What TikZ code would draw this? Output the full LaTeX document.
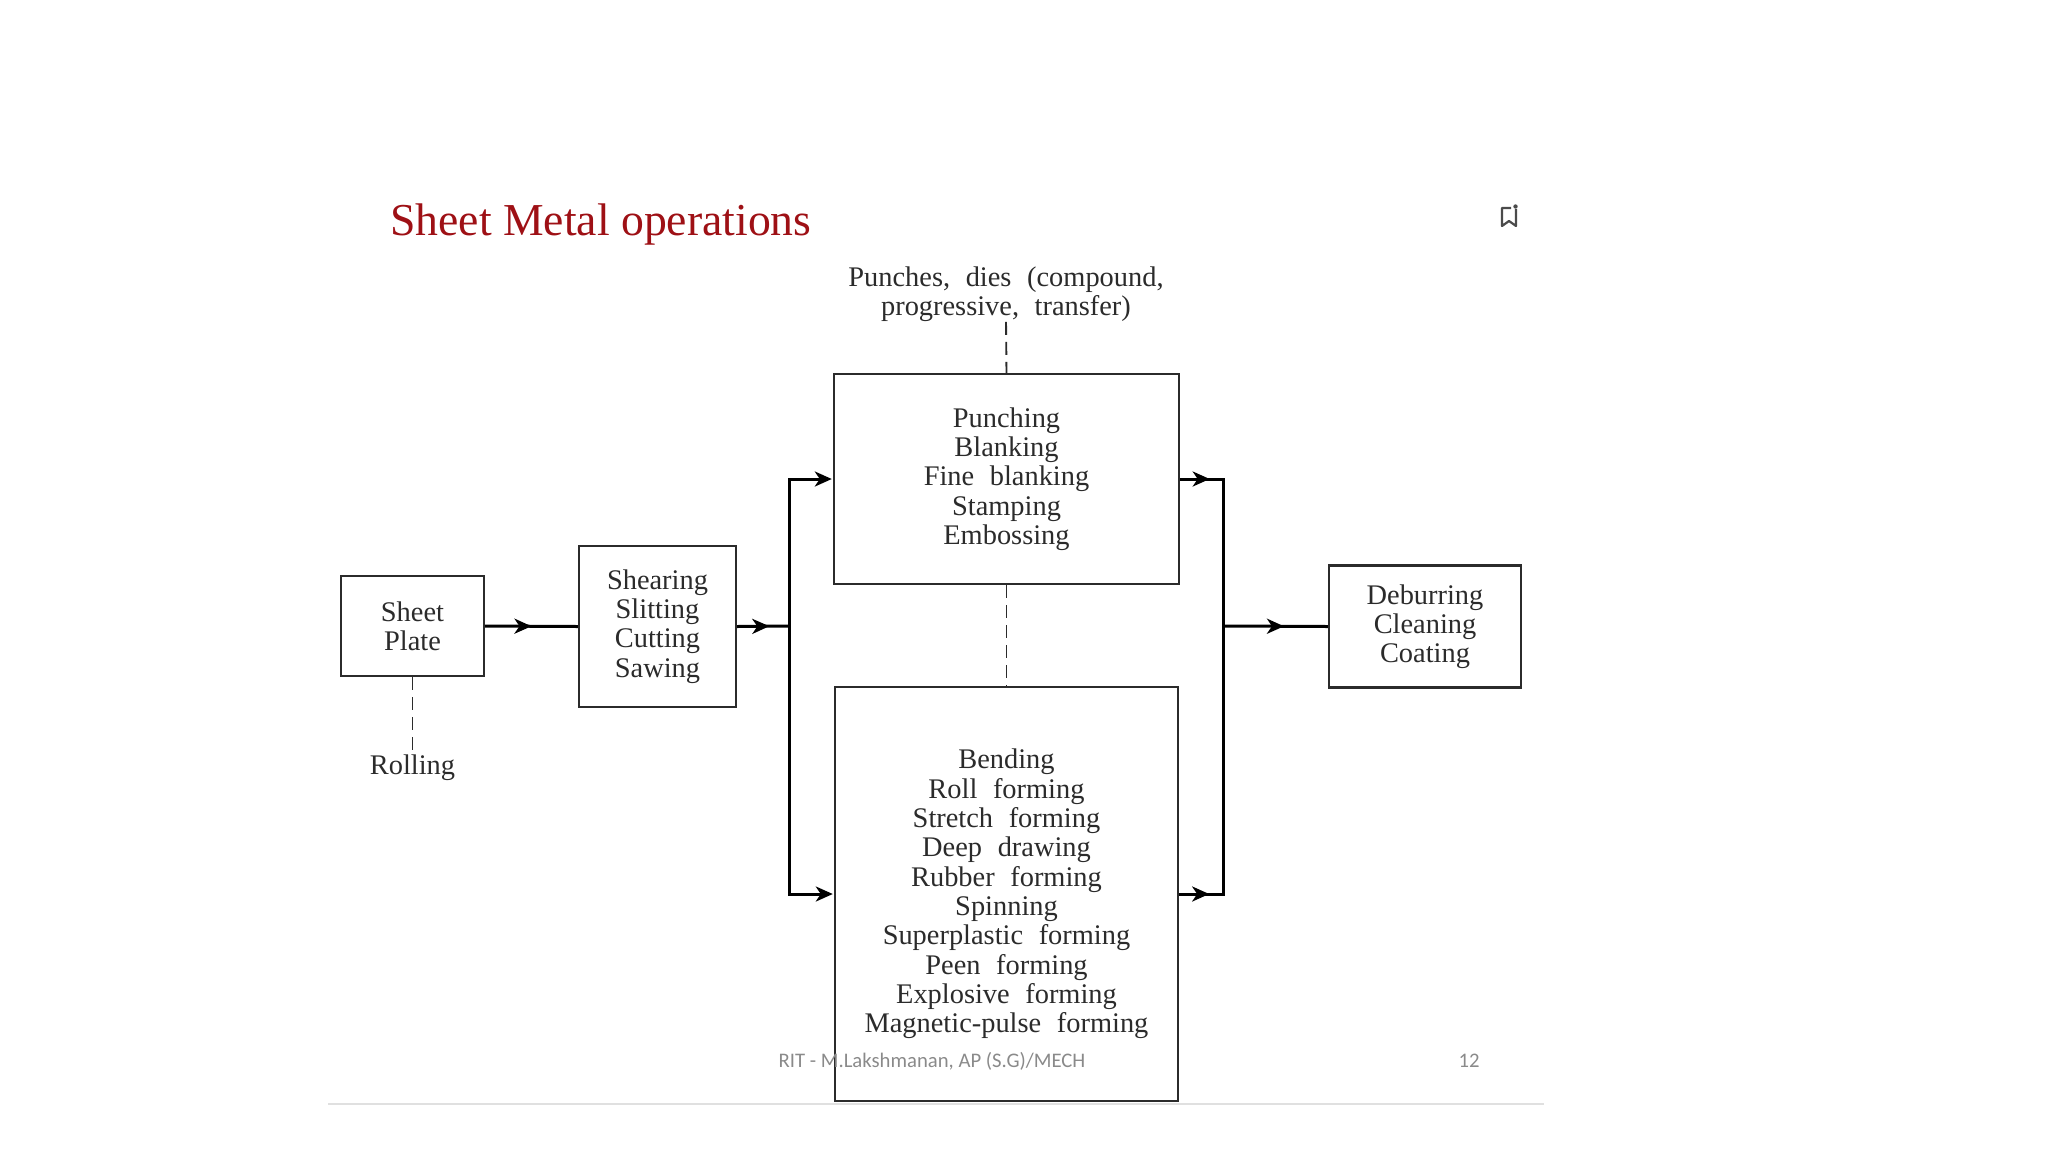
\documentclass[tikz,border=0pt]{standalone}
\usepackage{fontspec}
\setmainfont[WordSpace=2.2]{Liberation Serif}
\newfontfamily\titlefont{Liberation Serif}
\newfontfamily\footfont{Carlito}
\usetikzlibrary{arrows.meta,decorations.markings}
\definecolor{titlered}{HTML}{9E1015}
\definecolor{boxline}{HTML}{2B2B2B}
\definecolor{footgrey}{HTML}{8A8A8A}
\tikzset{
  opbox/.style={draw=boxline,line width=2.4pt,align=center,inner sep=0pt,font=\fontsize{28.4}{29.3}\selectfont,text=boxline},
  plain/.style={align=center,inner sep=0pt,font=\fontsize{28.4}{29.3}\selectfont,text=boxline},
  foot/.style={inner sep=0pt,text=footgrey,font=\footfont\fontsize{20.7}{24}\selectfont},
  flow/.style={draw=black,line width=3pt},
  midtip/.style={postaction={decorate,decoration={markings,mark=at position #1 with {\arrow{Stealth[length=17pt,width=15pt,inset=5pt]}}}}},
  tool/.style={draw=boxline,line width=1.9pt,dash pattern=on 13pt off 7pt}
}
\begin{document}
\begin{tikzpicture}[x=1pt,y=-1pt]
\useasboundingbox (0,0) rectangle (2048,1152);

\node[anchor=base west,inner sep=0pt,text=titlered,font=\titlefont\fontsize{45.7}{50}\selectfont] (title) at (390,235) {Sheet Metal operations};
\node[plain] (tools) at (1006,294) {Punches, dies (compound,\\progressive, transfer)};

\node[opbox,minimum width=143pt,minimum height=100pt] (sheet) at (412.5,626) {Sheet\\Plate};
\node[opbox,minimum width=157pt,minimum height=161pt] (shear) at (657.5,626.5) {Shearing\\Slitting\\Cutting\\Sawing};
\node[opbox,minimum width=345pt,minimum height=210pt] (punch) at (1006.5,479) {Punching\\Blanking\\Fine blanking\\Stamping\\Embossing};
\node[opbox,minimum width=343pt,minimum height=414pt] (form) at (1006.5,894) {Bending\\Roll forming\\Stretch forming\\Deep drawing\\Rubber forming\\Spinning\\Superplastic forming\\Peen forming\\Explosive forming\\Magnetic-pulse forming};
\node[opbox,minimum width=192pt,minimum height=122pt] (finish) at (1425,626.5) {Deburring\\Cleaning\\Coating};
\node[plain] (rolling) at (412.5,768) {Rolling};

\coordinate (split) at (789,626);
\coordinate (merge) at (1223.5,626);

\path[flow,midtip=0.5] (sheet.east) -- (shear.west);
\path[flow,midtip=0.62] (shear.east) -- (split);
\path[flow,midtip=0.58] (merge) -- (finish.west);
\draw[flow,-{Stealth[length=17pt,width=15pt,inset=5pt]},shorten >=1pt] (split) |- (punch.west);
\draw[flow,-{Stealth[length=17pt,width=15pt,inset=5pt]},shorten >=1pt] (split) |- (form.west);
\path[flow,midtip=0.155] (punch.east) -| (merge);
\path[flow,midtip=0.096] (form.east) -| (merge);

\draw[tool] (tools.south) -- (punch.north);
\draw[tool] (punch.south) -- (form.north);
\draw[tool] (sheet.south) -- (rolling.north);

\node[foot] (author) at (932,1061) {RIT - M.Lakshmanan, AP (S.G)/MECH};
\node[foot] (page) at (1469,1061) {12};
\coordinate (rulestart) at (328,1104);
\coordinate (ruleend) at (1544,1104);
\draw[draw=black!12,line width=1.5pt] (rulestart) -- (ruleend);

\draw[draw=boxline!85,line width=2.2pt,line join=round] (1511,208) -- (1502,208) -- (1502,226) -- (1509,221) -- (1516,226) -- (1516,209);
\fill[boxline!85] (1515.5,206.5) circle (2.2pt);

\end{tikzpicture}
\end{document}
